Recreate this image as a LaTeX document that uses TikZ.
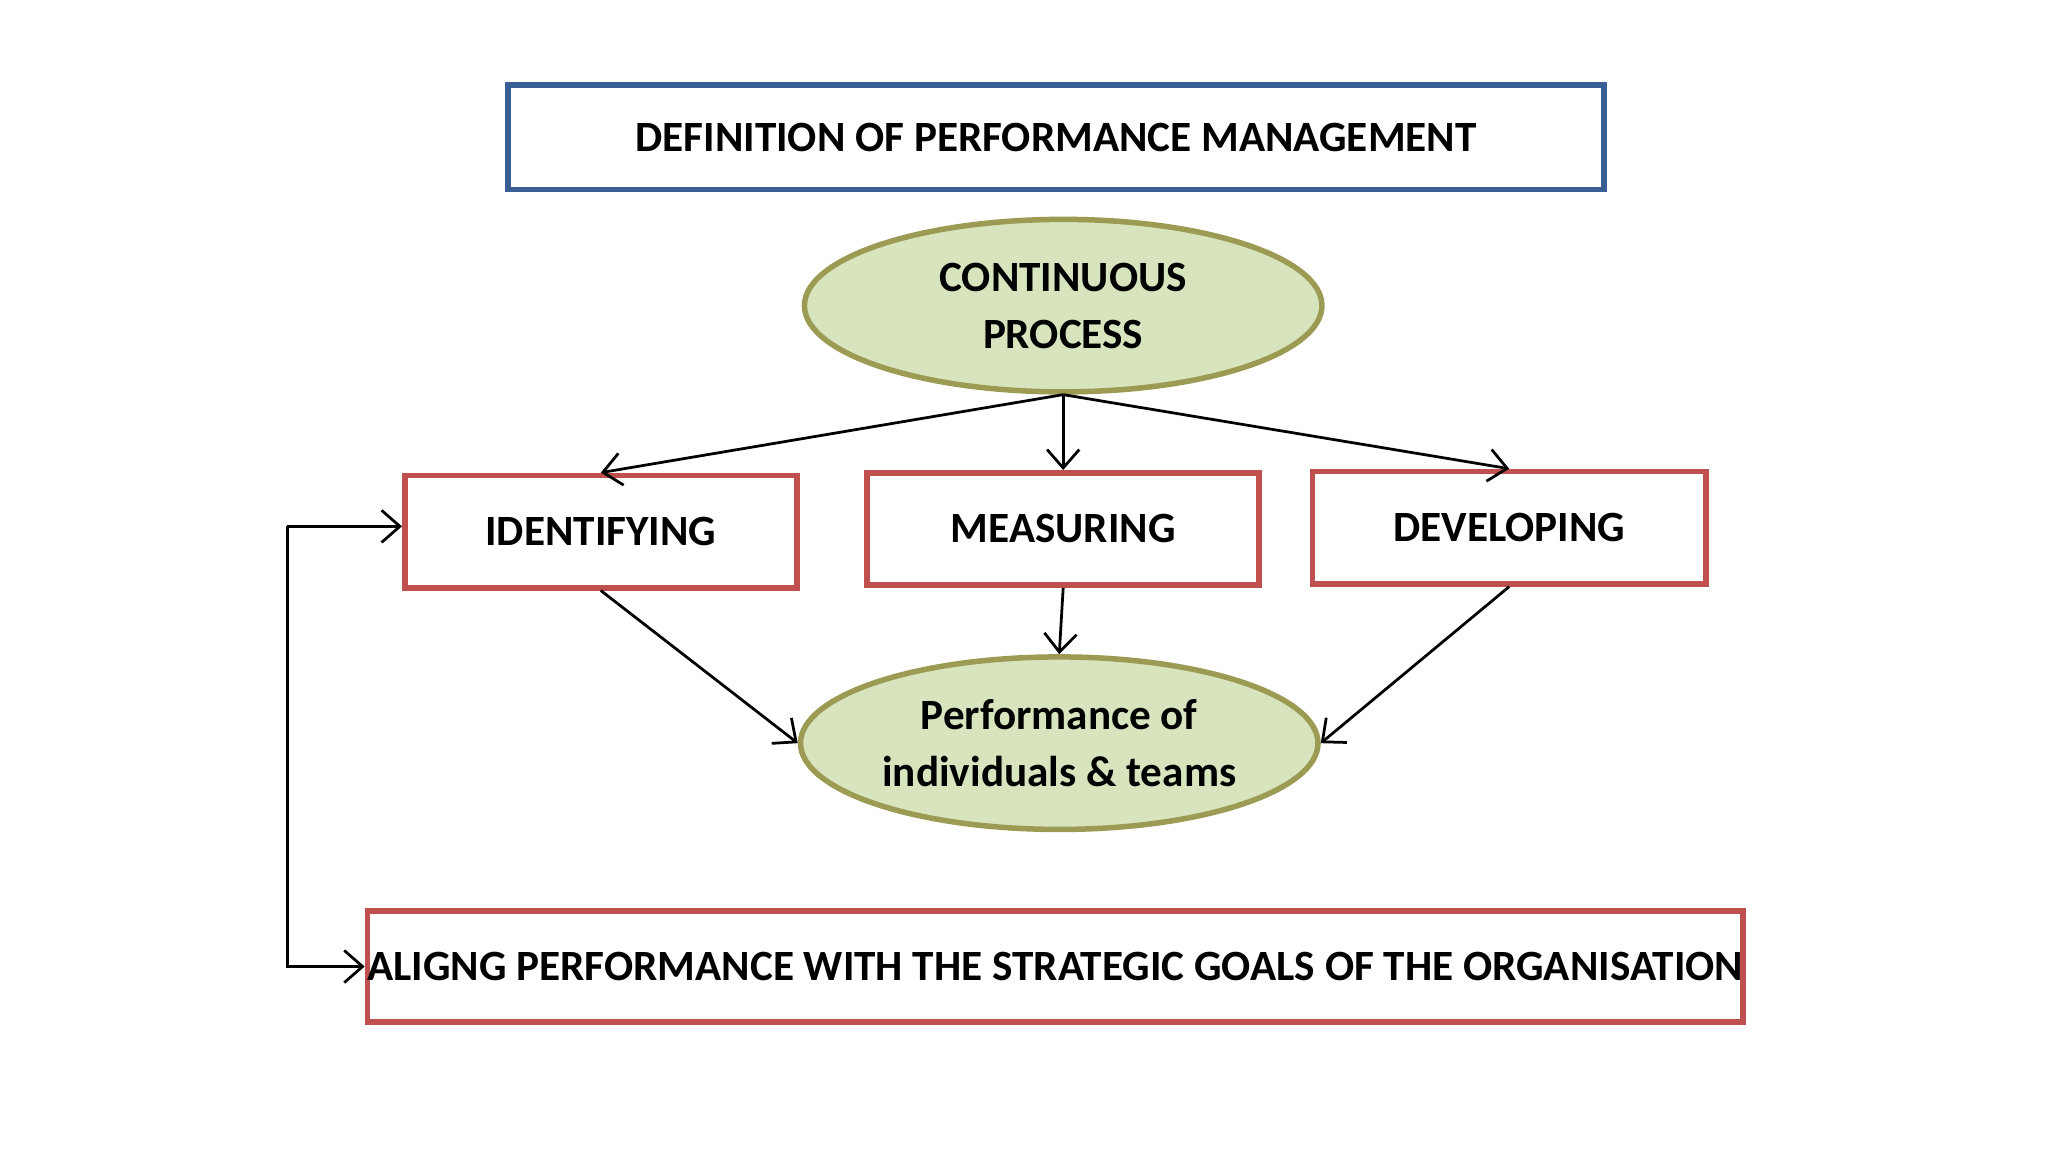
\documentclass[tikz,border=0pt]{standalone}
\usepackage{fontspec}
\setmainfont{Carlito}
\usetikzlibrary{shapes.geometric,arrows.meta}
\definecolor{tblue}{HTML}{3A5F94}
\definecolor{bred}{HTML}{C0504D}
\definecolor{efill}{HTML}{D7E4BD}
\definecolor{eline}{HTML}{9C9B54}
\tikzset{
 fnt/.style={font=\bfseries\fontsize{9.4}{12.4}\selectfont},
 redbox/.style={draw=bred,line width=1.2pt,minimum height=0.86cm,inner sep=0pt,fnt},
 ell/.style={ellipse,draw=eline,fill=efill,line width=1.2pt,inner sep=0pt,minimum width=3.96cm,minimum height=1.32cm,align=center,fnt},
 arr/.style={-{Straight Barb[length=4pt,width=7pt]},line width=0.6pt}
}
\begin{document}
\begin{tikzpicture}[x=0.01cm,y=-0.01cm]
\useasboundingbox (0,0) rectangle (1568,882);
\node[draw=tblue,line width=1.2pt,inner sep=0pt,minimum width=8.39cm,minimum height=0.8cm,fnt] (t) at (808.5,105) {DEFINITION OF PERFORMANCE MANAGEMENT};
\node[ell] (c) at (814,234) {CONTINUOUS\\PROCESS};
\node[redbox,minimum width=3cm] (i) at (460,407) {IDENTIFYING};
\node[redbox,minimum width=3cm] (m) at (814,405) {MEASURING};
\node[redbox,minimum width=3.01cm] (d) at (1155.5,404) {DEVELOPING};
\node[ell] (p) at (811,569) {Performance of\\individuals \& teams};
\node[redbox,minimum width=9.96cm,minimum height=0.85cm] (a) at (808,740) {ALIGNG PERFORMANCE WITH THE STRATEGIC GOALS OF THE ORGANISATION};
\draw[arr] (c.south) -- (i.north);
\draw[arr] (c.south) -- (m.north);
\draw[arr] (c.south) -- (d.north);
\draw[arr] (i.south) -- (p.west);
\draw[arr] (m.south) -- (p.north);
\draw[arr] (d.south) -- (p.east);
\coordinate (l1) at (220,403);
\coordinate (l2) at (220,740);
\draw[arr] (l1) -- (i.west |- l1);
\draw[arr] (l1) -- (l2) -- (a.west);
\end{tikzpicture}
\end{document}
